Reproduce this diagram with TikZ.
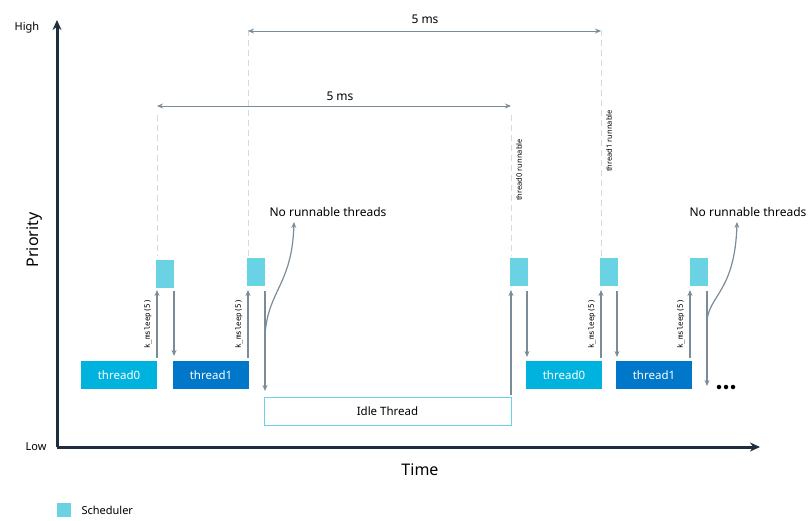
\documentclass[tikz,border=0pt]{standalone}
\usepackage{fontspec}
\setmainfont{Noto Sans}
\newfontfamily\monof{DejaVu Sans Mono}
\usetikzlibrary{arrows.meta}
\definecolor{sch}{HTML}{6AD3E3}
\definecolor{tzero}{HTML}{00B2DE}
\definecolor{tone}{HTML}{0077C8}
\definecolor{arr}{HTML}{7A8C99}
\definecolor{axc}{HTML}{1F2D3D}
\definecolor{dsh}{HTML}{D5DADF}
\tikzset{
 sched/.style={fill=sch,draw=none,minimum width=18pt,minimum height=28pt,inner sep=0},
 thr/.style={draw=none,minimum width=76pt,minimum height=28pt,inner sep=0,text=white,font=\fontsize{11.5}{13}\selectfont},
 ar/.style={arr,line width=1.2pt,-{Stealth[length=6pt,width=5pt]}},
 dm/.style={arr,line width=1pt,{Stealth[length=6pt,width=5pt]}-{Stealth[length=6pt,width=5pt]}},
 dl/.style={dsh,line width=1pt,dash pattern=on 6pt off 4pt},
 vl/.style={font=\monof\fontsize{7.5}{8}\selectfont,rotate=90,inner sep=1pt},
 rl/.style={font=\fontsize{7.5}{8}\selectfont,rotate=90,inner sep=1pt},
 lbl/.style={font=\fontsize{12}{14}\selectfont,text=black},
 dot/.style={circle,fill=black,inner sep=0,minimum size=4.5pt}
}
\begin{document}
\begin{tikzpicture}[x=1pt,y=-1pt]
\useasboundingbox (0,0) rectangle (809,520);
% dashed lines
\coordinate (d1t) at (157,115); \coordinate (d1b) at (157,256);
\coordinate (d2t) at (248,30); \coordinate (d2b) at (248,256);
\coordinate (d3t) at (511,115); \coordinate (d3b) at (511,256);
\coordinate (d4t) at (601,30); \coordinate (d4b) at (601,256);
\draw[dl] (d1t)--(d1b); \draw[dl] (d2t)--(d2b); \draw[dl] (d3t)--(d3b); \draw[dl] (d4t)--(d4b);
% dims
\coordinate (u1) at (248,31); \coordinate (u2) at (601,31);
\coordinate (l1) at (157,106); \coordinate (l2) at (511,106);
\draw[dm] (u1)--(u2); \draw[dm] (l1)--(l2);
\node[lbl] (ums) at (425,19) {5 ms};
\node[lbl] (lms) at (340,96) {5 ms};
\node[rl] (r0) at (519,170) {thread0 runnable};
\node[rl] (r1) at (609,141) {thread1 runnable};
% axes
\coordinate (o) at (57,447); \coordinate (yt) at (57,20); \coordinate (xt) at (760,447);
\draw[axc,line width=3pt,-{Stealth[length=10pt,width=9pt]}] (o)--(yt);
\draw[axc,line width=3pt,-{Stealth[length=10pt,width=9pt]}] (o)--(xt);
\node[font=\fontsize{11}{13}\selectfont] (hi) at (27,28) {High};
\node[font=\fontsize{11}{13}\selectfont] (lo) at (36,447) {Low};
\node[rotate=90,font=\fontsize{16}{18}\selectfont] (pr) at (35,240) {Priority};
\node[font=\fontsize{16}{18}\selectfont] (tm) at (420,470) {Time};
% schedulers
\node[sched] (s1) at (165,274) {};
\node[sched] (s2) at (256,272) {};
\node[sched] (s3) at (519,272) {};
\node[sched] (s4) at (609,272) {};
\node[sched] (s5) at (699,272) {};
% threads
\node[thr,fill=tzero] (a0) at (119,375) {thread0};
\node[thr,fill=tone] (a1) at (211,375) {thread1};
\node[thr,fill=tzero] (b0) at (564,375) {thread0};
\node[thr,fill=tone] (b1) at (654,375) {thread1};
\node[draw=sch,line width=1pt,minimum width=247pt,minimum height=28pt,inner sep=0,font=\fontsize{11.5}{13}\selectfont] (idle) at (387.5,411) {Idle Thread};
% arrows
\draw[ar] (157,358)--(157,290); \node[vl] (k1) at (148,324) {k\_msleep(5)};
\draw[ar] (174,291)--(174,356);
\draw[ar] (248,358)--(248,290); \node[vl] (k2) at (239,324) {k\_msleep(5)};
\draw[ar] (265,291)--(265,391);
\draw[ar] (511,395)--(511,290);
\draw[ar] (527,291)--(527,357);
\draw[ar] (601,358)--(601,290); \node[vl] (k3) at (592,324) {k\_msleep(5)};
\draw[ar] (617,291)--(617,357);
\draw[ar] (690,358)--(690,290); \node[vl] (k4) at (681,324) {k\_msleep(5)};
\draw[ar] (707,291)--(707,386);
\node[dot] (dt1) at (719,387) {};
\node[dot] (dt2) at (726,387) {};
\node[dot] (dt3) at (733,387) {};
% curves
\node[lbl] (n1) at (328,212) {No runnable threads};
\node[lbl] (n2) at (748,212) {No runnable threads};
\draw[ar] (265,335) .. controls (268,290) and (292,285) .. (294,222);
\draw[ar] (707,320) .. controls (710,295) and (735,290) .. (737,222);
% legend
\node[sched,minimum width=14pt,minimum height=14pt] (lg) at (64,510) {};
\node[font=\fontsize{11}{13}\selectfont,anchor=west] (lgt) at (78,510) {Scheduler};
\end{tikzpicture}
\end{document}
